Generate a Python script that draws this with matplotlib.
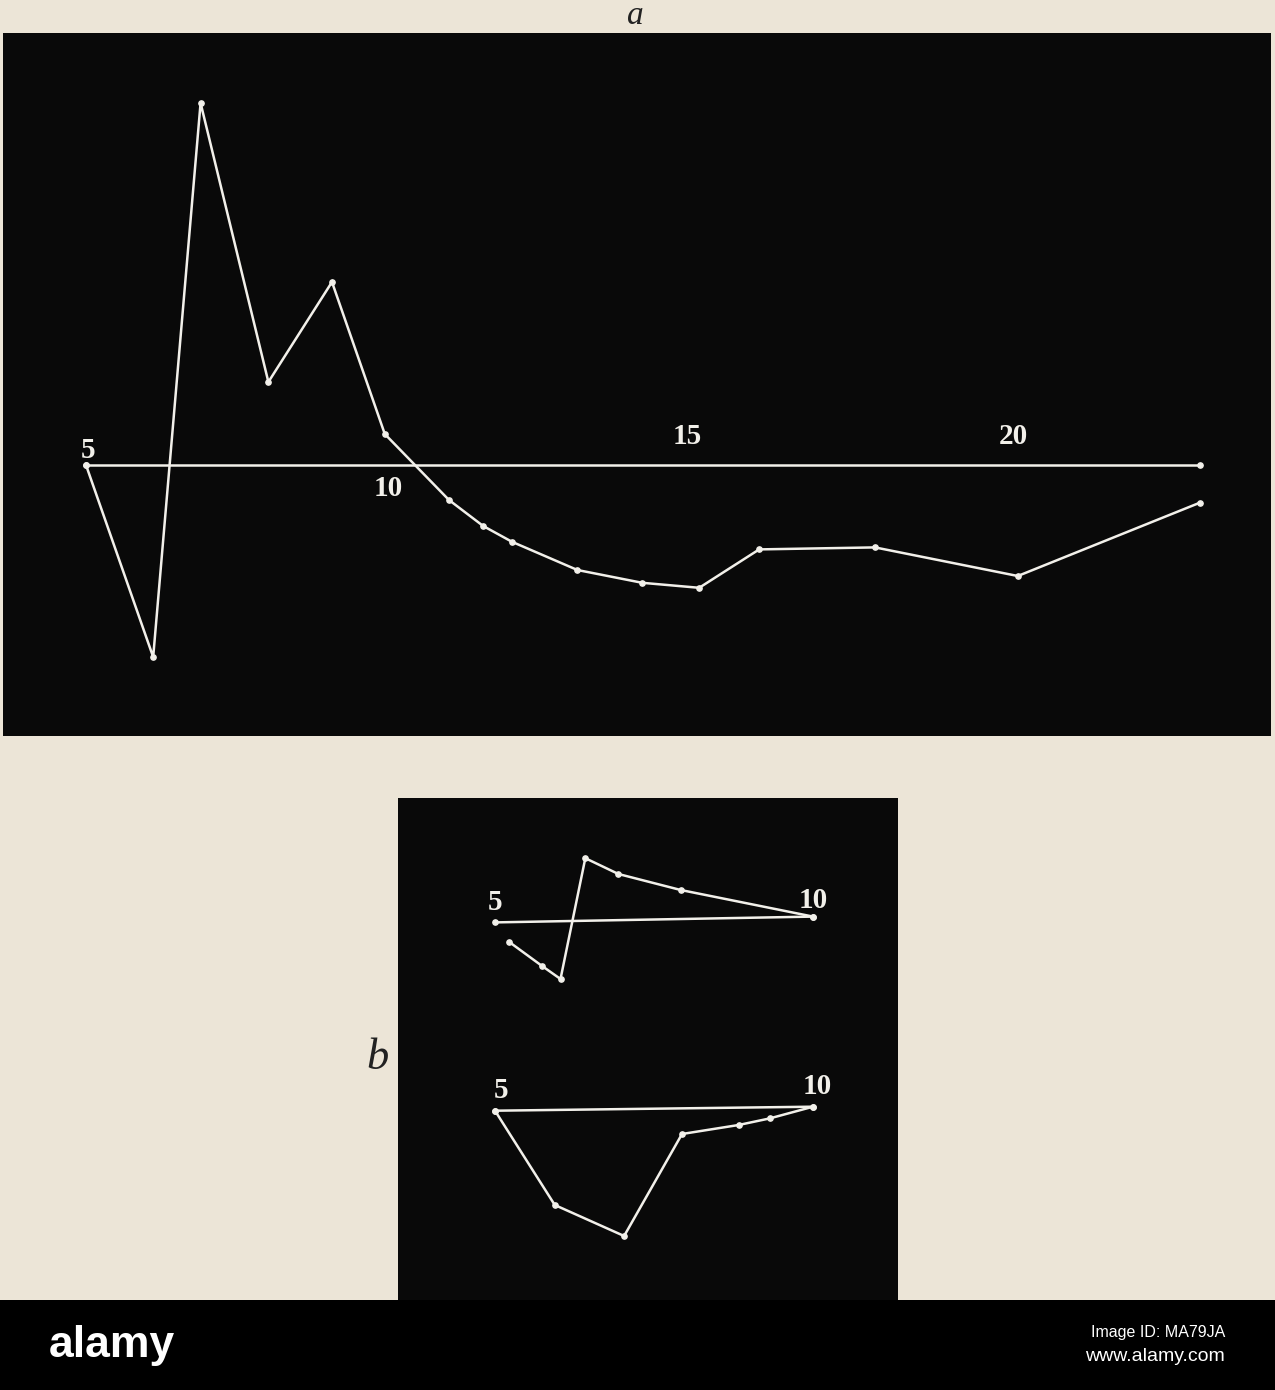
import matplotlib
matplotlib.use("Agg")
import matplotlib.pyplot as plt

# ---------------- data ----------------
# Panel a (upper figure)
a_x = [5.00, 6.12, 6.91, 8.04, 9.10, 9.98, 11.05, 11.62, 12.10, 13.19,
       14.27, 15.22, 16.22, 18.15, 20.53, 23.56]
a_y = [0.00, -9.60, 18.10, 4.15, 9.15, 1.55, -1.75, -3.05, -3.84, -5.25,
       -5.89, -6.14, -4.22, -4.12, -5.55, -1.89]
a_base_x = [5.00, 23.56]
a_base_y = [0.0, 0.0]
a_labels = ["5", "10", "15", "20"]
a_label_x = [5.03, 10.03, 15.02, 20.45]
a_label_y = [0.75, -1.15, 1.4, 1.4]

# Panel b, upper curve
b1_x = [5.22, 5.74, 6.03, 6.42, 6.94, 7.92, 10.00]
b1_y = [-1.09, -2.30, -2.95, 3.09, 2.30, 1.50, 0.17]
b1_base_x = [5.0, 10.0]
b1_base_y = [-0.12, 0.17]
b1_labels = ["5", "10"]
b1_label_x = [5.0, 10.0]
b1_label_y = [0.85, 1.0]

# Panel b, lower curve
b2_x = [5.00, 5.94, 7.03, 7.94, 8.83, 9.32, 10.00]
b2_y = [-0.085, -4.80, -6.35, -1.25, -0.80, -0.47, 0.115]
b2_base_x = [5.0, 10.0]
b2_base_y = [-0.085, 0.115]
b2_labels = ["5", "10"]
b2_label_x = [5.10, 10.06]
b2_label_y = [0.95, 1.10]

# ---------------- style ----------------
W, H = 1275, 1390
CREAM = "#ece5d7"
INK = "#090909"
WHITE = "#f2f0ea"
SERIF = ["Liberation Serif", "DejaVu Serif"]

fig = plt.figure(figsize=(W / 100, H / 100), dpi=100)
fig.patch.set_facecolor(CREAM)


def px_axes(l, t, r, b):
    return fig.add_axes([l / W, 1 - b / H, (r - l) / W, (b - t) / H])


def style(ax):
    ax.set_facecolor(INK)
    for s in ax.spines.values():
        s.set_visible(False)
    ax.set_xticks([])
    ax.set_yticks([])


line_kw = dict(color=WHITE, lw=1.8, solid_joinstyle="miter", zorder=3)
mark_kw = dict(color=WHITE, lw=0, marker="o", ms=3.8, zorder=4)
lab_kw = dict(color=WHITE, fontsize=21, fontweight="bold", family=SERIF,
              ha="center", va="center", zorder=5)

# Panel a
axa = px_axes(3, 33, 1271, 736)
style(axa)
axa.set_xlim(3.617, 24.75)
axa.set_ylim(-13.55, 21.6)
axa.plot(a_base_x, a_base_y, **line_kw)
axa.plot(a_base_x, a_base_y, **mark_kw)
axa.plot(a_x, a_y, **line_kw)
axa.plot(a_x, a_y, **mark_kw)
for t, x, y in zip(a_labels, a_label_x, a_label_y):
    axa.text(x, y, t, **lab_kw)

# Panel b
axb = px_axes(398, 798, 898, 1300)
style(axb)
axb.set_xlim(3.475, 11.336)
axb.set_ylim(-19.0, 6.1)
OFF = -9.45
axb.plot(b1_base_x, b1_base_y, **line_kw)
axb.plot(b1_base_x, b1_base_y, **mark_kw)
axb.plot(b1_x, b1_y, **line_kw)
axb.plot(b1_x, b1_y, **mark_kw)
for t, x, y in zip(b1_labels, b1_label_x, b1_label_y):
    axb.text(x, y, t, **lab_kw)

b2_base_shift = [v + OFF for v in b2_base_y]
b2_shift = [v + OFF for v in b2_y]
axb.plot(b2_base_x, b2_base_shift, **line_kw)
axb.plot(b2_base_x, b2_base_shift, **mark_kw)
axb.plot(b2_x, b2_shift, **line_kw)
axb.plot(b2_x, b2_shift, **mark_kw)
for t, x, y in zip(b2_labels, b2_label_x, b2_label_y):
    axb.text(x, y + OFF, t, **lab_kw)

# Panel letters
fig.text(635 / W, 1 - 16 / H, "a", family=SERIF, style="italic",
         fontsize=24, color="#222222", ha="center", va="center")
fig.text(377 / W, 1 - 1058 / H, "b", family=SERIF, style="italic",
         fontsize=32, color="#222222", ha="center", va="center")

# Bottom banner
axs = px_axes(0, 1300, 1275, 1390)
axs.set_facecolor("#000000")
for s in axs.spines.values():
    s.set_visible(False)
axs.set_xticks([])
axs.set_yticks([])
axs.set_xlim(0, 1)
axs.set_ylim(0, 1)
SANS = ["Liberation Sans Narrow", "Liberation Sans", "DejaVu Sans"]
axs.text(0.038, 0.50, "alamy", color="white", fontsize=32, fontweight="bold",
         family=SANS, ha="left", va="center")
axs.text(0.961, 0.64, "Image ID: MA79JA", color="white", fontsize=11.5,
         family=SANS, ha="right", va="center")
axs.text(0.961, 0.37, "www.alamy.com", color="white", fontsize=14,
         family=SANS, ha="right", va="center")

fig.savefig("out.png", dpi=100, facecolor=CREAM)
